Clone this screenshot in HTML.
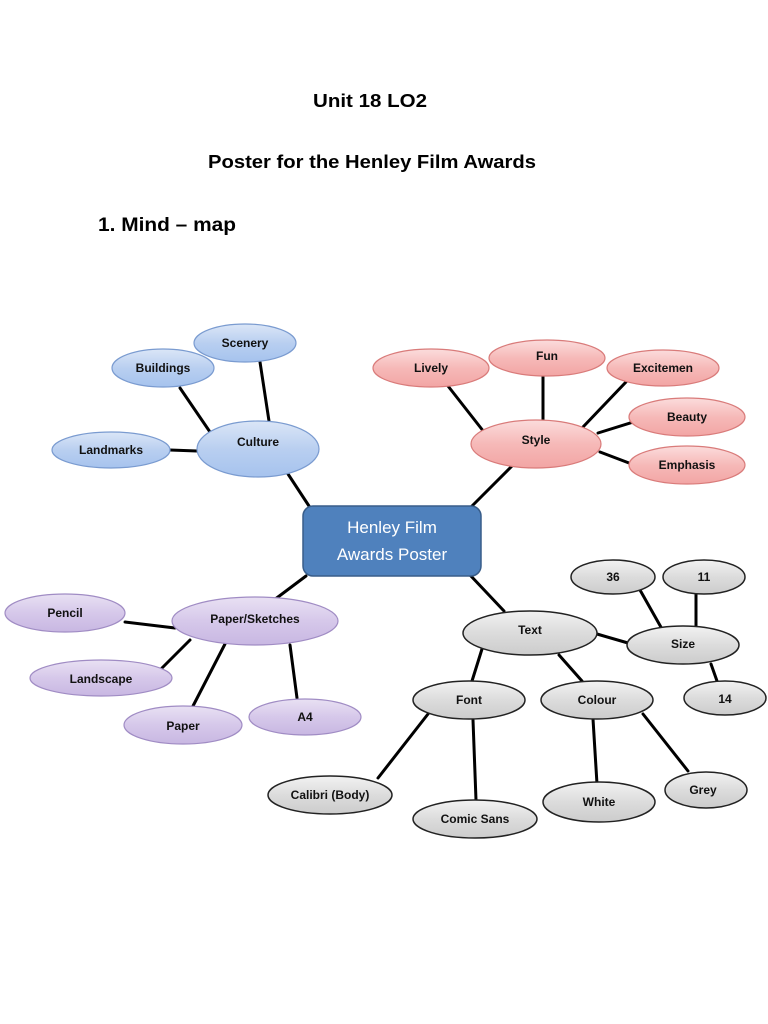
<!DOCTYPE html>
<html><head><meta charset="utf-8"><style>
html,body{margin:0;padding:0;background:#fff;}
svg{display:block;}
text{font-family:"Liberation Sans",sans-serif;}
</style></head><body>
<svg width="768" height="1024" viewBox="0 0 768 1024" xmlns="http://www.w3.org/2000/svg">
<defs>
<linearGradient id="gb" x1="0" y1="0" x2="0" y2="1"><stop offset="0" stop-color="#dbe6f7"/><stop offset="0.5" stop-color="#b9cff0"/><stop offset="1" stop-color="#a6c3ee"/></linearGradient>
<linearGradient id="gr" x1="0" y1="0" x2="0" y2="1"><stop offset="0" stop-color="#fbdcdc"/><stop offset="0.5" stop-color="#f6b9b8"/><stop offset="1" stop-color="#f2a5a4"/></linearGradient>
<linearGradient id="gp" x1="0" y1="0" x2="0" y2="1"><stop offset="0" stop-color="#e9e1f3"/><stop offset="0.5" stop-color="#d6c8ea"/><stop offset="1" stop-color="#c8b7e2"/></linearGradient>
<linearGradient id="gg" x1="0" y1="0" x2="0" y2="1"><stop offset="0" stop-color="#f2f2f2"/><stop offset="0.5" stop-color="#dcdcdc"/><stop offset="1" stop-color="#cccccc"/></linearGradient>
</defs>
<g font-weight="bold" fill="#000" text-anchor="middle">
<text x="370" y="107" font-size="18" textLength="114" lengthAdjust="spacingAndGlyphs">Unit 18 LO2</text>
<text x="372" y="168" font-size="18" textLength="328" lengthAdjust="spacingAndGlyphs">Poster for the Henley Film Awards</text>
<text x="167" y="231" font-size="19" textLength="138" lengthAdjust="spacingAndGlyphs">1. Mind – map</text>
</g>
<g stroke="#000" stroke-width="3" stroke-linecap="round">
<line x1="180" y1="388" x2="210" y2="432"/><line x1="260" y1="362" x2="269" y2="421"/><line x1="170" y1="450" x2="197" y2="451"/><line x1="288" y1="474" x2="309" y2="506"/>
<line x1="448" y1="386" x2="484" y2="432"/><line x1="543" y1="376" x2="543" y2="420"/><line x1="626" y1="382" x2="583" y2="427"/><line x1="640" y1="420" x2="598" y2="433"/><line x1="629" y1="463" x2="600" y2="452"/><line x1="512" y1="466" x2="472" y2="506"/>
<line x1="306" y1="576" x2="274" y2="600"/><line x1="125" y1="622" x2="175" y2="628"/><line x1="160" y1="670" x2="190" y2="640"/><line x1="193" y1="706" x2="225" y2="644"/><line x1="297" y1="698" x2="290" y2="645"/>
<line x1="470" y1="575" x2="504" y2="611"/><line x1="482" y1="649" x2="472" y2="681"/><line x1="559" y1="655" x2="582" y2="681"/><line x1="597" y1="634" x2="628" y2="643"/><line x1="640" y1="590" x2="662" y2="629"/><line x1="696" y1="593" x2="696" y2="626"/><line x1="711" y1="664" x2="717" y2="681"/>
<line x1="428" y1="714" x2="378" y2="778"/><line x1="473" y1="720" x2="476" y2="800"/><line x1="593" y1="719" x2="597" y2="784"/><line x1="643" y1="714" x2="688" y2="771"/>
</g>
<g stroke="#7a9bd0" stroke-width="1.2" fill="url(#gb)">
<ellipse cx="245" cy="343" rx="51" ry="19"/><ellipse cx="163" cy="368" rx="51" ry="19"/><ellipse cx="258" cy="449" rx="61" ry="28"/><ellipse cx="111" cy="450" rx="59" ry="18"/>
</g>
<g stroke="#d97b7a" stroke-width="1.2" fill="url(#gr)">
<ellipse cx="431" cy="368" rx="58" ry="19"/><ellipse cx="547" cy="358" rx="58" ry="18"/><ellipse cx="663" cy="368" rx="56" ry="18"/><ellipse cx="687" cy="417" rx="58" ry="19"/><ellipse cx="536" cy="444" rx="65" ry="24"/><ellipse cx="687" cy="465" rx="58" ry="19"/>
</g>
<g stroke="#a08cc4" stroke-width="1.2" fill="url(#gp)">
<ellipse cx="65" cy="613" rx="60" ry="19"/><ellipse cx="255" cy="621" rx="83" ry="24"/><ellipse cx="101" cy="678" rx="71" ry="18"/><ellipse cx="183" cy="725" rx="59" ry="19"/><ellipse cx="305" cy="717" rx="56" ry="18"/>
</g>
<g stroke="#222" stroke-width="1.5" fill="url(#gg)">
<ellipse cx="530" cy="633" rx="67" ry="22"/><ellipse cx="683" cy="645" rx="56" ry="19"/><ellipse cx="613" cy="577" rx="42" ry="17"/><ellipse cx="704" cy="577" rx="41" ry="17"/><ellipse cx="725" cy="698" rx="41" ry="17"/><ellipse cx="469" cy="700" rx="56" ry="19"/><ellipse cx="597" cy="700" rx="56" ry="19"/><ellipse cx="330" cy="795" rx="62" ry="19"/><ellipse cx="475" cy="819" rx="62" ry="19"/><ellipse cx="599" cy="802" rx="56" ry="20"/><ellipse cx="706" cy="790" rx="41" ry="18"/>
</g>
<rect x="303" y="506" width="178" height="70" rx="10" fill="#4f81bd" stroke="#385d8a" stroke-width="1.5"/>
<g fill="#fff" font-size="17" text-anchor="middle">
<text x="392" y="533">Henley Film</text><text x="392" y="560">Awards Poster</text>
</g>
<g font-size="12" font-weight="bold" text-anchor="middle" fill="#111">
<text x="245" y="347">Scenery</text><text x="163" y="372">Buildings</text><text x="258" y="446">Culture</text><text x="111" y="454">Landmarks</text>
<text x="431" y="372">Lively</text><text x="547" y="360">Fun</text><text x="663" y="372">Excitemen</text><text x="687" y="421">Beauty</text><text x="536" y="444">Style</text><text x="687" y="469">Emphasis</text>
<text x="65" y="617">Pencil</text><text x="255" y="623">Paper/Sketches</text><text x="101" y="683">Landscape</text><text x="183" y="730">Paper</text><text x="305" y="721">A4</text>
<text x="530" y="634">Text</text><text x="683" y="648">Size</text><text x="613" y="581">36</text><text x="704" y="581">11</text><text x="725" y="703">14</text><text x="469" y="704">Font</text><text x="597" y="704">Colour</text><text x="330" y="799">Calibri (Body)</text><text x="475" y="823">Comic Sans</text><text x="599" y="806">White</text><text x="703" y="794">Grey</text>
</g>
</svg>
</body></html>
